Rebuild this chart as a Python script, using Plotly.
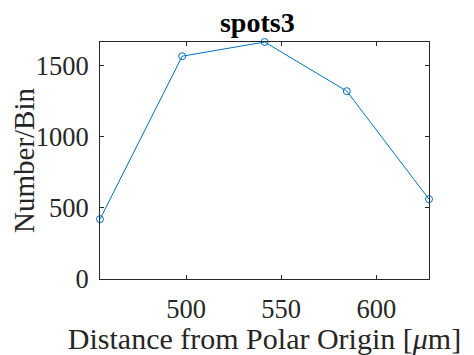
import plotly.graph_objects as go

distance = [454.8, 498.0, 541.3, 584.5, 627.7]
count = [421, 1568, 1668, 1322, 562]
x_ticks = [500, 550, 600]
y_ticks = [0, 500, 1000, 1500]

FONT = "Liberation Serif, Times New Roman, serif"

fig = go.Figure()
fig.add_trace(go.Scatter(
    x=distance, y=count, mode="lines+markers",
    line=dict(color="#0072BD", width=1),
    marker=dict(symbol="circle-open", size=7, color="#0072BD", line=dict(width=1)),
    cliponaxis=False, showlegend=False,
))

axis_common = dict(
    showgrid=False, zeroline=False, showline=True, linecolor="#262626", linewidth=1,
    mirror="allticks", ticks="inside", ticklen=4, tickcolor="#262626",
    tickfont=dict(family=FONT, size=26.5, color="#262626"),
)
# page body has an 8px default margin, so the figure is drawn 8px in and down
fig.update_layout(
    width=466, height=347,
    margin=dict(l=92, r=45, t=34, b=76, autoexpand=False),
    paper_bgcolor="white", plot_bgcolor="white",
    title=dict(text="<b>spots3</b>", x=0.535, xanchor="center", y=0.958, yanchor="middle",
               font=dict(family=FONT, size=28, color="black")),
    xaxis=dict(range=[distance[0], distance[-1]], tickvals=x_ticks,
               title=dict(text="Distance from Polar Origin [<i>μ</i>m]", standoff=6,
                          font=dict(family=FONT, size=30, color="#262626")),
               ticklabelstandoff=6, **axis_common),
    yaxis=dict(range=[0, max(count)], tickvals=y_ticks,
               title=dict(text="Number/Bin", standoff=7,
                          font=dict(family=FONT, size=29, color="#262626")),
               ticklabelstandoff=5, **axis_common),
)
fig.write_html("out.html")
